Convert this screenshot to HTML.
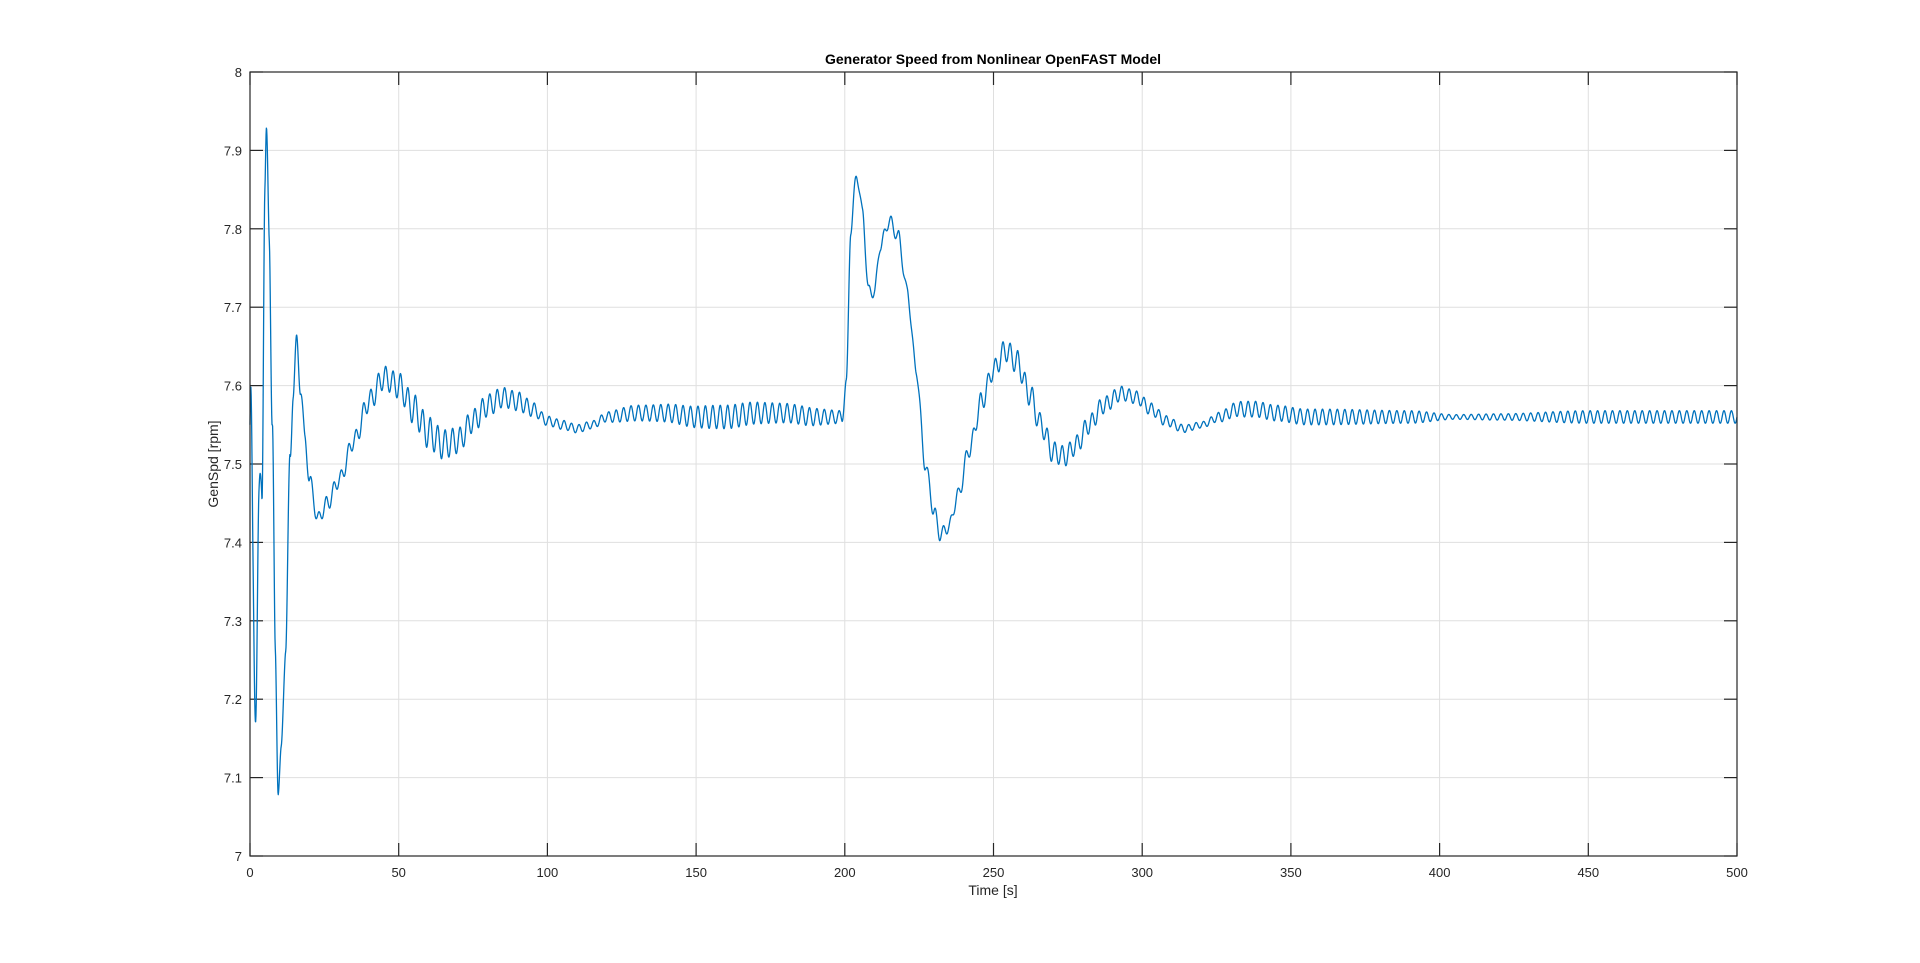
<!DOCTYPE html>
<html><head><meta charset="utf-8">
<style>
html,body{margin:0;padding:0;background:#fff;width:1920px;height:963px;overflow:hidden}
svg text{font-family:"Liberation Sans",Arial,sans-serif}
</style></head>
<body>
<svg id="chart" width="1920" height="963" viewBox="0 0 1920 963" xmlns="http://www.w3.org/2000/svg">
<rect width="1920" height="963" fill="#fff"/>
<g id="grid"></g>
<g id="ticks"></g>
<path id="series" fill="none" stroke="#0072bd" stroke-width="1.3" stroke-linejoin="round"/>
<rect x="250" y="72" width="1487" height="784" fill="none" stroke="#262626" stroke-width="1.2"/>
<text x="993" y="64" text-anchor="middle" font-size="14" font-weight="bold" fill="#000">Generator Speed from Nonlinear OpenFAST Model</text>
<text x="993" y="895" text-anchor="middle" font-size="14" fill="#262626">Time [s]</text>
<text transform="translate(218,464) rotate(-90)" text-anchor="middle" font-size="14" fill="#262626">GenSpd [rpm]</text>
</svg>
<script>
const xTicks=[0,50,100,150,200,250,300,350,400,450,500];
const yTicks=[7,7.1,7.2,7.3,7.4,7.5,7.6,7.7,7.8,7.9,8];
const meanT=[0,1,2,3,4,5,5.5,6.5,7.5,8.5,9.5,10.5,12,13.5,14.5,15.7,17,18.5,20,22.8,26,30,35,40,45,50,55,60,65,70,75,80,85,90,95,100,105,110,115,120,130,140,150,160,170,180,190,199,200.5,202,204,206,208,210,212,215,218,221,224,227,230,232,235,238,242,246,250,254,258,262,266,270,274,278,282,287,293,298,303,308,314,320,326,332,338,345,355,365,380,400,420,450,500];
const meanV=[7.55,7.3,7.3,7.35,7.5,7.85,7.9,7.8,7.55,7.25,7.1,7.12,7.28,7.5,7.6,7.65,7.6,7.53,7.48,7.43,7.45,7.48,7.53,7.58,7.61,7.6,7.57,7.54,7.525,7.53,7.555,7.575,7.585,7.58,7.57,7.555,7.55,7.545,7.55,7.56,7.565,7.565,7.56,7.56,7.565,7.565,7.56,7.56,7.6,7.8,7.87,7.82,7.72,7.72,7.78,7.81,7.79,7.72,7.62,7.5,7.44,7.41,7.42,7.46,7.52,7.58,7.62,7.645,7.63,7.59,7.55,7.515,7.51,7.525,7.55,7.575,7.59,7.585,7.57,7.555,7.545,7.55,7.56,7.57,7.57,7.565,7.56,7.56,7.56,7.56,7.56,7.56,7.56];
const ampT=[0,3,5,12,20,30,45,60,75,90,100,115,130,160,185,200,235,245,260,280,300,320,335,360,390,405,420,450,500];
const ampV=[0.15,0.12,0.03,0.02,0.008,0.01,0.015,0.02,0.015,0.012,0.006,0.005,0.01,0.015,0.012,0.008,0.008,0.012,0.015,0.012,0.008,0.004,0.01,0.01,0.008,0.003,0.004,0.008,0.008];
const ripplePeriod=2.5;
const L=250,T=72,W=1487,H=784;
const X=t=>L+t/500*W, Y=v=>T+H-(v-7)/1*H;
const NS="http://www.w3.org/2000/svg";
const grid=document.getElementById('grid'),ticks=document.getElementById('ticks'),svg=document.getElementById('chart');
function mk(tag,attrs,parent){const e=document.createElementNS(NS,tag);for(const k in attrs)e.setAttribute(k,attrs[k]);parent.appendChild(e);return e;}
xTicks.forEach(t=>{
  const g=mk('line',{x1:X(t),x2:X(t),y1:T,y2:T+H,stroke:'#dfdfdf','stroke-width':1},grid);
  
  
  const a=mk('line',{x1:X(t),x2:X(t),y1:T+H,y2:T+H-13,stroke:'#262626','stroke-width':1.2},ticks);
  
  
  const b=mk('line',{x1:X(t),x2:X(t),y1:T,y2:T+13,stroke:'#262626','stroke-width':1.2},ticks);
  
  
  const tx=mk('text',{x:X(t),y:T+H+21,'text-anchor':'middle','font-size':13,fill:'#262626'},svg);
  tx.textContent=t;
  
  
});
yTicks.forEach(v=>{
  const g=mk('line',{x1:L,x2:L+W,y1:Y(v),y2:Y(v),stroke:'#dfdfdf','stroke-width':1},grid);
  
  
  const a=mk('line',{x1:L,x2:L+13,y1:Y(v),y2:Y(v),stroke:'#262626','stroke-width':1.2},ticks);
  
  
  const b=mk('line',{x1:L+W,x2:L+W-13,y1:Y(v),y2:Y(v),stroke:'#262626','stroke-width':1.2},ticks);
  
  
  const tx=mk('text',{x:L-8,y:Y(v)+5,'text-anchor':'end','font-size':13,fill:'#262626'},svg);
  tx.textContent=(v===7||v===8)?String(v):v.toFixed(1);
  
  
});
function interp(ts,vs,t){
  if(t<=ts[0])return vs[0];
  for(let i=1;i<ts.length;i++){if(t<=ts[i]){const f=(t-ts[i-1])/(ts[i]-ts[i-1]);const s=f*f*(3-2*f);return vs[i-1]+(vs[i]-vs[i-1])*s;}}
  return vs[vs.length-1];
}
let d='';
for(let i=0;i<=5000;i++){
  const t=i*0.1;
  const v=interp(meanT,meanV,t)+interp(ampT,ampV,t)*Math.sin(2*Math.PI*t/ripplePeriod);
  d+=(i?'L':'M')+X(t).toFixed(2)+' '+Y(v).toFixed(2);
}
document.getElementById('series').setAttribute('d',d);
</script>
</body></html>
